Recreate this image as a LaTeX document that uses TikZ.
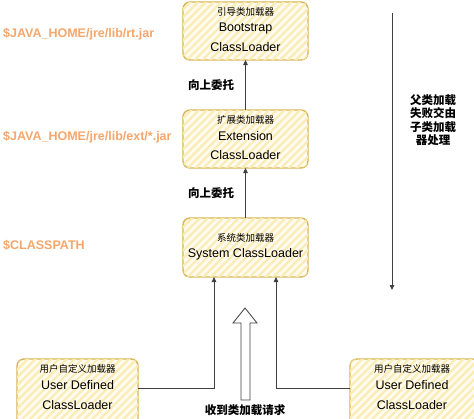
\documentclass[tikz,border=0pt]{standalone}
\usepackage{fontspec}
\setmainfont{Liberation Sans}
\newfontfamily\cjk{Noto Sans CJK SC}
\usetikzlibrary{patterns.meta,arrows.meta}
\definecolor{boxline}{HTML}{D6B656}
\definecolor{boxfill}{HTML}{FFFBEE}
\definecolor{hatch}{HTML}{FBEBB5}
\definecolor{pathtxt}{HTML}{F5A66B}
\tikzset{
  loader/.style={draw=boxline, line width=1.4pt, rounded corners=7pt,
    fill=boxfill, postaction={pattern={Lines[angle=45,distance=5.5pt,line width=2.2pt]}, pattern color=hatch}},
  cn/.style={font=\cjk\fontsize{9.5}{11}\selectfont},
  en/.style={font=\fontsize{12.5}{14}\selectfont},
  pathlbl/.style={font=\bfseries\fontsize{12.5}{14}\selectfont, text=pathtxt, anchor=west, inner sep=0pt},
  lbl/.style={font=\cjk\bfseries\fontsize{11.5}{14}\selectfont, inner sep=0pt},
  conn/.style={line width=0.8pt, draw=black!75, -{Triangle[length=5pt,width=4.5pt]}},
}
\begin{document}
\begin{tikzpicture}[x=1pt,y=-1pt]
\useasboundingbox (0,0) rectangle (474,418);
% boxes
\path[loader] (183,2) rectangle (308,60);
\path[loader] (183,110) rectangle (308,168);
\path[loader] (183,218) rectangle (308,277);
\path[loader] (17,359) rectangle (138,426);
\path[loader] (350,359) rectangle (480,426);
\node[coordinate] (boot) at (245.5,31) {};
\node[coordinate] (bootB) at (245.5,60) {};
\node[coordinate] (extT) at (245.5,110) {};
\node[coordinate] (extB) at (245.5,168) {};
\node[coordinate] (sysT) at (245.5,218) {};
\node[coordinate] (sysBL) at (214,277) {};
\node[coordinate] (sysBR) at (276,277) {};
\node[coordinate] (userL) at (138,388) {};
\node[coordinate] (userR) at (350,388) {};
% box texts
\node[cn] (b1) at (245.5,12) {引导类加载器};
\node[en] (b2) at (245.5,28) {Bootstrap};
\node[en] (b3) at (245.5,47) {ClassLoader};
\node[cn] (e1) at (245.5,120) {扩展类加载器};
\node[en] (e2) at (245.5,136) {Extension};
\node[en] (e3) at (245.5,155) {ClassLoader};
\node[cn] (s1) at (245.5,238) {系统类加载器};
\node[en] (s2) at (245.5,254) {System ClassLoader};
\node[cn] (u1) at (77.5,369) {用户自定义加载器};
\node[en] (u2) at (77.5,385) {User Defined};
\node[en] (u3) at (77.5,405) {ClassLoader};
\node[cn] (r1) at (412,369) {用户自定义加载器};
\node[en] (r2) at (412,385) {User Defined};
\node[en] (r3) at (412,405) {ClassLoader};
% path labels
\node[pathlbl] (p1) at (3,34) {\$JAVA\_HOME/jre/lib/rt.jar};
\node[pathlbl] (p2) at (3,137) {\$JAVA\_HOME/jre/lib/ext/*.jar};
\node[pathlbl] (p3) at (3,245) {\$CLASSPATH};
% connectors
\draw[conn] (extT) -- (bootB);
\draw[conn] (sysT) -- (extB);
\draw[conn] (userL) -| (sysBL);
\draw[conn] (userR) -| (sysBR);
\node[lbl] (d1) at (211,85) {向上委托};
\node[lbl] (d2) at (211,193) {向上委托};
% hollow arrow
\draw[line width=0.8pt, draw=black!75, fill=white, line join=miter]
  (245,308) -- (257,323) -- (250,323) -- (250,400) -- (241,400) -- (241,323) -- (233,323) -- cycle;
\node[lbl] (req) at (245,410) {收到类加载请求};
% right downward arrow
\coordinate (downT) at (392,13);
\coordinate (downB) at (392,290);
\draw[conn] (downT) -- (downB);
\node[lbl, align=center, font=\cjk\bfseries\fontsize{11.5}{13.5}\selectfont] (note) at (433,120) {父类加载\\失败交由\\子类加载\\器处理};
\end{tikzpicture}
\end{document}
